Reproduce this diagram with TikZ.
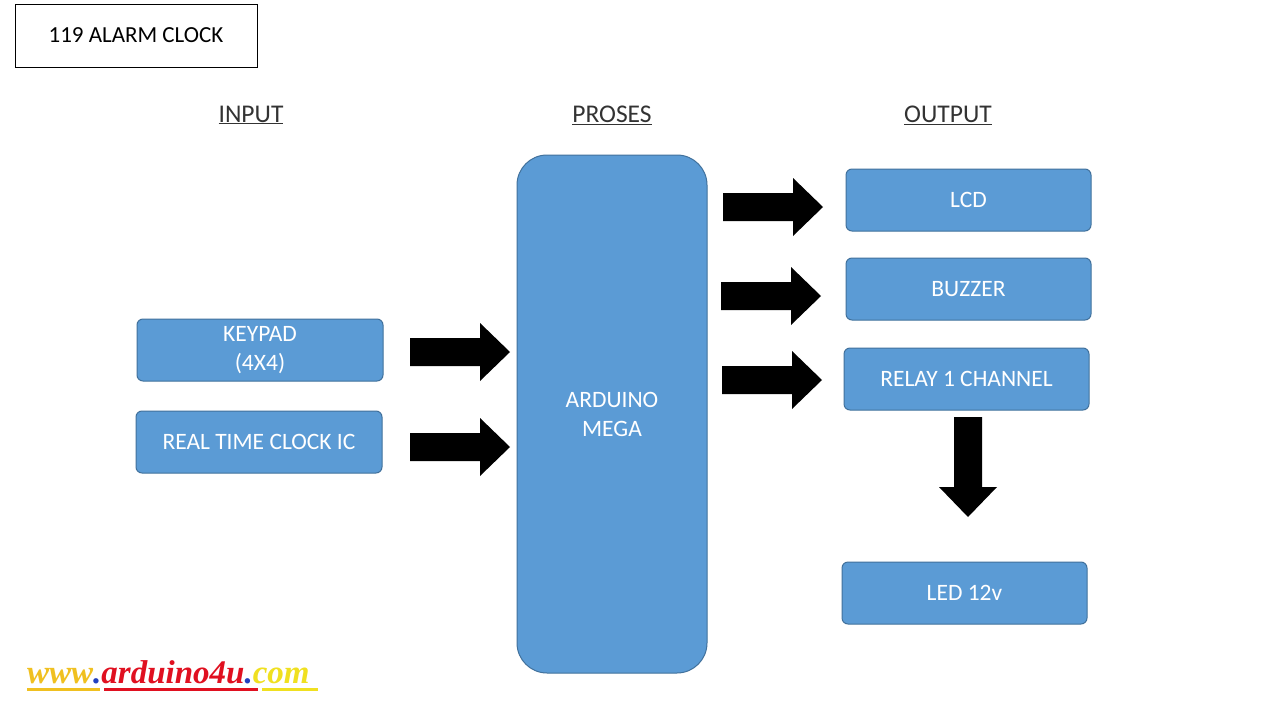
\documentclass[tikz,border=0pt]{standalone}
\usepackage{fontspec}
\setmainfont{Carlito}
\newfontfamily\logofont{Liberation Serif}
\begin{document}
\begin{tikzpicture}[x=1pt,y=-1pt,
  box/.style={draw=boxline,fill=boxfill,rounded corners=6pt,line width=1pt,text=white,font=\fontsize{23.5}{29}\selectfont,align=center,inner sep=0pt},
  hdr/.style={font=\fontsize{25.5}{30}\selectfont,text=black!80},
  pics/barrow/.style={code={\fill[black] (0,-14)--(70,-14)--(70,-29)--(100,0)--(70,29)--(70,14)--(0,14)--cycle;}}]
\definecolor{boxfill}{HTML}{5B9BD5}
\definecolor{boxline}{HTML}{41719C}
\definecolor{lgold}{HTML}{F0C020}
\definecolor{lblue}{HTML}{2040C0}
\definecolor{lred}{HTML}{E01020}
\definecolor{lyel}{HTML}{F0E020}
\useasboundingbox (0,0) rectangle (1280,720);
\fill[white] (0,0) rectangle (1280,720);
\node[draw=black,line width=1pt,minimum width=242,minimum height=63,inner sep=0pt,font=\fontsize{23}{28}\selectfont] (title) at (136,35.5) {119 ALARM CLOCK};
\node[hdr] (hin) at (251,115) {\underline{INPUT}};
\node[hdr] (hpr) at (612,115) {\underline{PROSES}};
\node[hdr] (hout) at (948,115) {\underline{OUTPUT}};
\node[box,minimum width=246,minimum height=62] (key) at (260,350) {KEYPAD\\(4X4)};
\node[box,minimum width=246,minimum height=62] (rtc) at (259,442) {REAL TIME CLOCK IC};
\node[box,rounded corners=30pt,minimum width=190,minimum height=518] (ard) at (612,414) {ARDUINO\\MEGA};
\node[box,minimum width=245,minimum height=62] (lcd) at (968.5,200) {LCD};
\node[box,minimum width=245,minimum height=62] (buz) at (968.5,289) {BUZZER};
\node[box,minimum width=245,minimum height=62] (rel) at (966.5,379) {RELAY 1 CHANNEL};
\node[box,minimum width=245,minimum height=62] (led) at (964.5,593) {LED 12v};
\pic at (410,352) {barrow};
\pic at (410,447) {barrow};
\pic at (723,207) {barrow};
\pic at (721,296) {barrow};
\pic at (722,380) {barrow};
\pic[rotate=-90] at (968,417) {barrow};
\node[anchor=base west,inner sep=0pt,font=\logofont\bfseries\itshape\fontsize{33}{33}\selectfont] (logo) at (27,683) {\textcolor{lgold}{www}\textcolor{lblue}{.}\textcolor{lred}{arduino4u}\textcolor{lblue}{.}\textcolor{lyel}{com}};
\fill[lgold] (27,688) rectangle (100,691);
\fill[lred] (104,688) rectangle (258,691);
\fill[lyel] (262,688) rectangle (318,691);
\end{tikzpicture}
\end{document}
